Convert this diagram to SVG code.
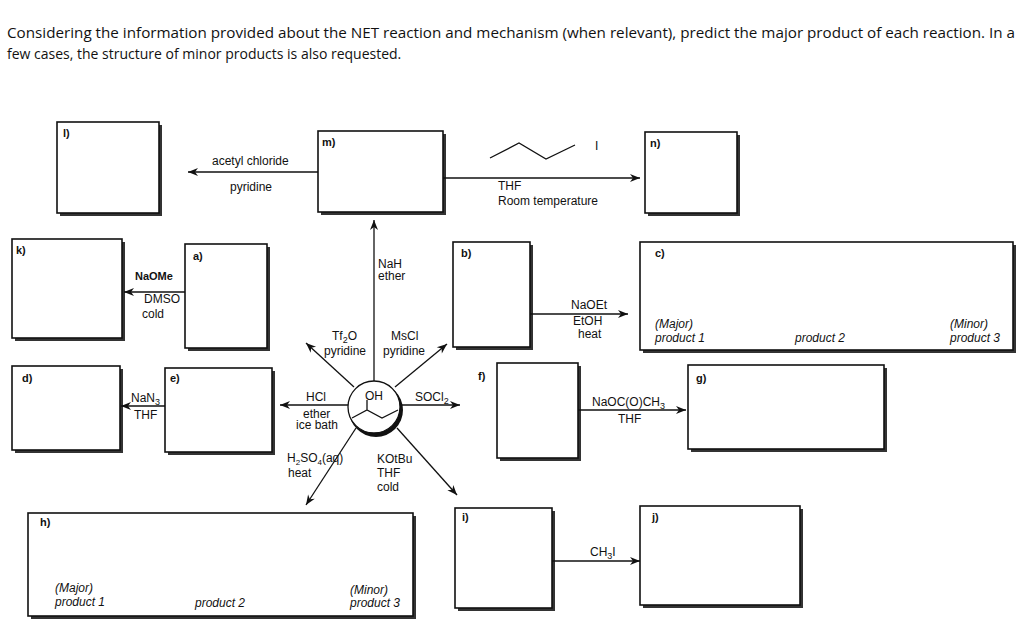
<svg xmlns="http://www.w3.org/2000/svg" width="1024" height="631" viewBox="0 0 1024 631">
<style>
.b{fill:#fff;stroke:#111;stroke-width:1.6}
.s{fill:#333}
.t{font-family:"Liberation Sans",Arial,sans-serif;font-size:12px;fill:#111}
.lb{font-family:"Liberation Sans",Arial,sans-serif;font-size:11px;font-weight:bold;fill:#111}
.i{font-style:italic}
.h{font-family:"Open Sans","Liberation Sans",sans-serif;font-size:14px;fill:#111}
.c{stroke:#111;stroke-width:1.3;fill:none}
</style>
<defs><marker id="a" viewBox="0 0 10 10" refX="10" refY="5" markerWidth="15" markerHeight="10" markerUnits="userSpaceOnUse" orient="auto"><path d="M0,1 L10,5 L0,9 L3,5 z" fill="#111"/></marker></defs>
<rect width="1024" height="631" fill="#fff"/>
<text class="h" x="7" y="38" textLength="1008" lengthAdjust="spacingAndGlyphs">Considering the information provided about the NET reaction and mechanism (when relevant), predict the major product of each reaction.  In a</text>
<text class="h" x="7" y="59">few cases,  the structure of minor products is also requested.</text>
<g id="l"><rect class="s" x="60" y="125" width="102" height="91"/><rect class="b" x="57" y="122" width="102" height="91"/><text class="lb" x="63" y="137">l)</text></g>
<g id="m"><rect class="s" x="321" y="134" width="125" height="81"/><rect class="b" x="318" y="131" width="125" height="81"/><text class="lb" x="322" y="146">m)</text></g>
<g id="n"><rect class="s" x="648" y="135" width="92" height="81"/><rect class="b" x="645" y="132" width="92" height="81"/><text class="lb" x="650" y="147">n)</text></g>
<g id="k"><rect class="s" x="15" y="242" width="110" height="99"/><rect class="b" x="12" y="239" width="110" height="99"/><text class="lb" x="16" y="254">k)</text></g>
<g id="a_"><rect class="s" x="188" y="247" width="82" height="104"/><rect class="b" x="185" y="244" width="82" height="104"/><text class="lb" x="193" y="260">a)</text></g>
<g id="b"><rect class="s" x="456" y="245" width="77" height="105"/><rect class="b" x="453" y="242" width="77" height="105"/><text class="lb" x="461" y="257">b)</text></g>
<g id="c"><rect class="s" x="643" y="245" width="373" height="108"/><rect class="b" x="640" y="242" width="373" height="108"/><text class="lb" x="655" y="257">c)</text>
<text class="t i" x="655" y="328">(Major)</text><text class="t i" x="655" y="342">product 1</text><text class="t i" x="795" y="342">product 2</text><text class="t i" x="950" y="328">(Minor)</text><text class="t i" x="950" y="342">product 3</text></g>
<g id="d"><rect class="s" x="15" y="369" width="108" height="84"/><rect class="b" x="12" y="366" width="108" height="84"/><text class="lb" x="22" y="382">d)</text></g>
<g id="e"><rect class="s" x="168" y="371" width="107" height="84"/><rect class="b" x="165" y="368" width="107" height="84"/><text class="lb" x="170" y="382">e)</text></g>
<g id="f"><rect class="s" x="500" y="366" width="81" height="95"/><rect class="b" x="497" y="363" width="81" height="95"/><text class="lb" x="478" y="380">f)</text></g>
<g id="g"><rect class="s" x="691" y="368" width="196" height="84"/><rect class="b" x="688" y="365" width="196" height="84"/><text class="lb" x="696" y="382">g)</text></g>
<g id="h"><rect class="s" x="31" y="516" width="385" height="103"/><rect class="b" x="28" y="513" width="385" height="103"/><text class="lb" x="40" y="526">h)</text>
<text class="t i" x="55" y="592">(Major)</text><text class="t i" x="55" y="606">product 1</text><text class="t i" x="195" y="607">product 2</text><text class="t i" x="350" y="594">(Minor)</text><text class="t i" x="350" y="607">product 3</text></g>
<g id="i"><rect class="s" x="458" y="511" width="97" height="100"/><rect class="b" x="455" y="508" width="97" height="100"/><text class="lb" x="462" y="521">i)</text></g>
<g id="j"><rect class="s" x="643" y="509" width="160" height="99"/><rect class="b" x="640" y="506" width="160" height="99"/><text class="lb" x="652" y="521">j)</text></g>
<g id="alcohol"><circle cx="376" cy="410" r="27" fill="#111"/><circle cx="374" cy="407" r="26" fill="#fff" stroke="#111" stroke-width="1.3"/>
<text class="t" x="365" y="400">OH</text><path d="M352,418 L367,410 L382,418 L398,410 M367,410 L367,400" class="c" stroke-width="1.6"/></g>
<g id="connectors">
<line class="c" x1="318" y1="172" x2="188" y2="172" marker-end="url(#a)"/>
<line class="c" x1="443" y1="178" x2="640" y2="178" marker-end="url(#a)"/>
<path class="c" d="M490,158 L519,143 L546,159 L575,145" stroke-width="1.5"/>
<line class="c" x1="374" y1="381" x2="374" y2="220" marker-end="url(#a)"/>
<line class="c" x1="354" y1="387" x2="306" y2="343" marker-end="url(#a)"/>
<line class="c" x1="395" y1="387" x2="447" y2="344" marker-end="url(#a)"/>
<line class="c" x1="348" y1="405" x2="280" y2="405" marker-end="url(#a)"/>
<line class="c" x1="401" y1="405" x2="460" y2="405" marker-end="url(#a)"/>
<line class="c" x1="356" y1="428" x2="306" y2="505" marker-end="url(#a)"/>
<line class="c" x1="397" y1="428" x2="457" y2="495" marker-end="url(#a)"/>
<line class="c" x1="185" y1="292" x2="124" y2="292" marker-end="url(#a)"/>
<line class="c" x1="530" y1="314" x2="628" y2="314" marker-end="url(#a)"/>
<line class="c" x1="165" y1="406" x2="121" y2="406" marker-end="url(#a)"/>
<line class="c" x1="578" y1="410" x2="686" y2="410" marker-end="url(#a)"/>
<line class="c" x1="552" y1="561" x2="640" y2="561" marker-end="url(#a)"/>
</g>
<g id="labels">
<text class="t" x="212" y="165">acetyl chloride</text><text class="t" x="230" y="191">pyridine</text>
<text class="t" x="595" y="150">I</text>
<text class="t" x="498" y="190">THF</text><text class="t" x="498" y="205">Room temperature</text>
<text class="t" x="378" y="268">NaH</text><text class="t" x="378" y="280">ether</text>
<text class="t" x="332" y="340">Tf<tspan font-size="9" dy="3">2</tspan><tspan dy="-3">O</tspan></text><text class="t" x="324" y="355">pyridine</text>
<text class="t" x="391" y="340">MsCl</text><text class="t" x="383" y="355">pyridine</text>
<text class="t" x="306" y="401">HCl</text><text class="t" x="303" y="418" font-size="11">ether</text><text class="t" x="296" y="429" font-size="11">ice bath</text>
<text class="t" x="415" y="401">SOCl<tspan font-size="9" dy="3">2</tspan></text>
<text class="t" x="287" y="462" font-size="11">H<tspan font-size="8" dy="3">2</tspan><tspan dy="-3">SO</tspan><tspan font-size="8" dy="3">4</tspan><tspan dy="-3">(aq)</tspan></text><text class="t" x="288" y="477">heat</text>
<text class="t" x="377" y="463">KOtBu</text><text class="t" x="377" y="477">THF</text><text class="t" x="377" y="491">cold</text>
<text class="lb" x="135" y="280">NaOMe</text><text class="t" x="144" y="303" font-size="11">DMSO</text><text class="t" x="142" y="318" font-size="15" font-family="Open Sans,sans-serif">cold</text>
<text class="t" x="571" y="309">NaOEt</text><text class="t" x="573" y="325">EtOH</text><text class="t" x="578" y="338">heat</text>
<text class="t" x="131" y="402">NaN<tspan font-size="9" dy="3">3</tspan></text><text class="t" x="134" y="419">THF</text>
<text class="t" x="592" y="406">NaOC(O)CH<tspan font-size="9" dy="3">3</tspan></text><text class="t" x="618" y="423">THF</text>
<text class="t" x="590" y="556">CH<tspan font-size="9" dy="3">3</tspan><tspan dy="-3">I</tspan></text>
</g>
</svg>
